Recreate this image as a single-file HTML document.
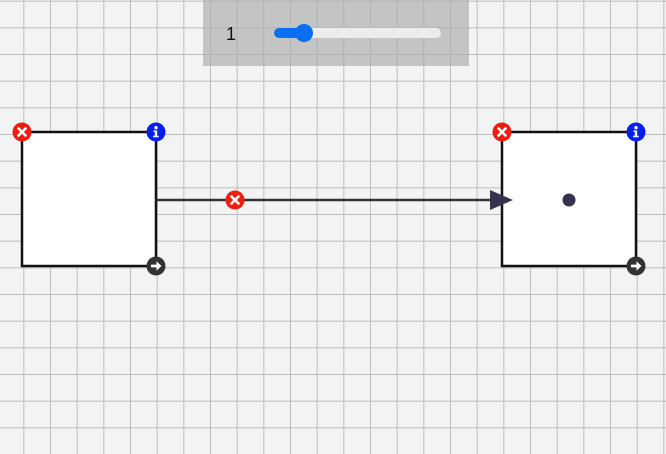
<!DOCTYPE html>
<html><head><meta charset="utf-8"><style>
html,body{margin:0;padding:0;width:666px;height:454px;overflow:hidden;background:#f2f4f3}
svg{display:block}
</style></head><body>
<svg width="666" height="454" xmlns="http://www.w3.org/2000/svg">
<defs>
<pattern id="g" x="-3.33" y="0.67" width="26.667" height="26.667" patternUnits="userSpaceOnUse">
<path d="M0.5 0 V26.667 M0 0.5 H26.667" stroke="#b9bdbc" stroke-width="1" fill="none"/>
</pattern>
<g id="x"><circle r="9.5" fill="#ee1d0f"/><path d="M-3.5 -3.5 L3.5 3.5 M3.5 -3.5 L-3.5 3.5" stroke="#fff" stroke-width="2.6" stroke-linecap="round"/></g>
<g id="i"><circle r="9.5" fill="#0a1fef"/><circle cx="0" cy="-4.3" r="1.7" fill="#fff"/><path d="M-2.5 -1.5 H1.2 V3.8 H2.6 V5.3 H-2.8 V3.8 H-1.2 V0 H-2.5 Z" fill="#fff"/></g>
<g id="a"><circle r="9.5" fill="#333"/><path d="M-5 -1.4 H0.5 V-4.8 L5.5 0 L0.5 4.8 V1.4 H-5 Z" fill="#fff"/></g>
</defs>
<rect width="666" height="454" fill="#f2f4f3"/>
<rect width="666" height="454" fill="url(#g)"/>
<rect x="203" y="0" width="266" height="66" fill="#aeb0ae" fill-opacity="0.7"/>
<text x="226" y="40" font-family="Liberation Sans, sans-serif" font-size="18" fill="#111">1</text>
<line x1="279" y1="33" x2="436" y2="33" stroke="#ececec" stroke-width="10" stroke-linecap="round"/>
<line x1="279" y1="33" x2="304" y2="33" stroke="#0a6ff0" stroke-width="10" stroke-linecap="round"/>
<circle cx="304" cy="33" r="9" fill="#0a6ff0"/>
<rect x="22" y="132" width="134" height="134" fill="#fff" stroke="#111" stroke-width="2.5"/>
<rect x="502" y="132" width="134" height="134" fill="#fff" stroke="#111" stroke-width="2.5"/>
<line x1="156" y1="200" x2="492" y2="200" stroke="#333" stroke-width="2.5"/>
<path d="M490 190 L513 200 L490 210 Z" fill="#33334d"/>
<circle cx="569" cy="200" r="6.5" fill="#33334d"/>
<use href="#x" x="235" y="200"/>
<use href="#x" x="22" y="132"/>
<use href="#i" x="156" y="132"/>
<use href="#a" x="156" y="266"/>
<use href="#x" x="502" y="132"/>
<use href="#i" x="636" y="132"/>
<use href="#a" x="636" y="266"/>
</svg>
</body></html>
